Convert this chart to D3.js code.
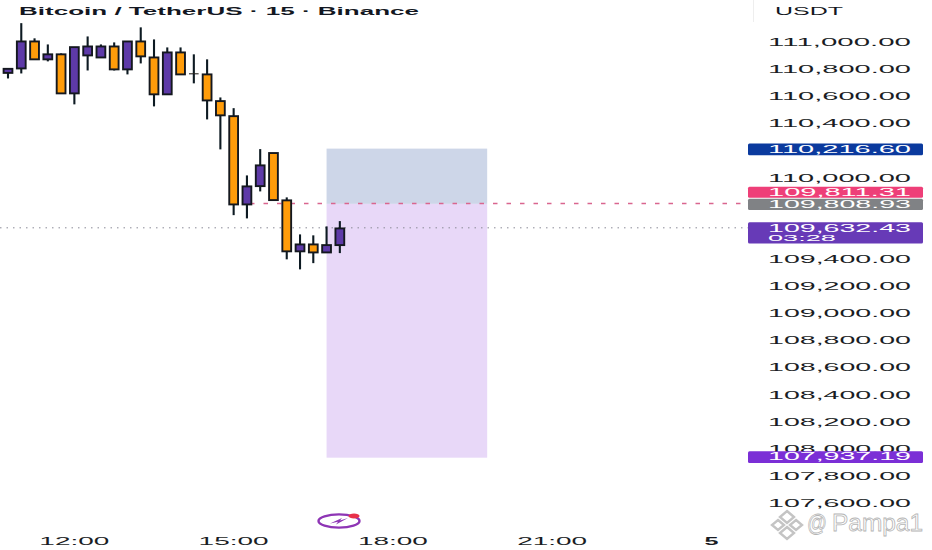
<!DOCTYPE html>
<html><head><meta charset="utf-8">
<script src="https://cdn.jsdelivr.net/npm/d3@7/dist/d3.min.js"></script>
<style>html,body{margin:0;padding:0;background:#fff;overflow:hidden}svg{display:block}text{font-family:"Liberation Sans",Arial,sans-serif}</style>
</head><body><svg id="c" width="932" height="550"></svg>
<script>
const opens =[110775,110808,111007,110875,110912,110624,110904,110889,110970,110801,111007,110889,110617,110926,110769,110764,110567,110456,109805,109940,110184,109835,109459,109510,109451,109505];
const closes=[110805,111007,110875,110912,110624,110965,110970,110970,110801,111007,110897,110617,110926,110764,110769,110572,110462,109805,109938,110093,109837,109459,109510,109451,109505,109628];
const highs =[110805,111142,111030,110985,110919,110965,111044,110985,111000,111007,111111,111022,110963,110963,110912,110875,110594,110515,110019,110213,110184,109857,109584,109577,109643,109682];
const lows  =[110734,110771,110875,110860,110624,110543,110793,110889,110793,110764,110845,110528,110617,110764,110698,110432,110211,109726,109702,109901,109837,109400,109326,109372,109451,109446];
const priceTicks=[111000,110800,110600,110400,110000,109400,109200,109000,108800,108600,108400,108200,108000,107800,107600];
const timeLabels=["12:00","15:00","18:00","21:00","5"];
const timeBars=[5,17,29,41,53];
const tagValues=[110216.60,109811.31,109808.93,109632.43,107937.19];
const tagColors=["#0b3a9e","#ee3f78","#808285","#673ab7","#7b2fd6"];
const posTop=110216.60,posEntry=109808.93,posBottom=107937.19,posStartBar=24,posEndBar=36.1;
const currentCountdown="03:28";

const svg=d3.select("#c");
const y=d3.scaleLinear().domain([111000,107600]).range([42.4,503.4]);
const x=d3.scaleLinear().domain([0,53]).range([8,711.5]);
const fmt=d3.format(",.2f");
const stretched=(sel,t,px,py,len,size,col,weight)=>sel.append("text").attr("x",px).attr("y",py).attr("fill",col)
  .attr("font-size",size).attr("font-weight",weight||400).attr("textLength",len).attr("lengthAdjust","spacingAndGlyphs").text(t);

// position tool
svg.append("rect").attr("x",x(posStartBar)).attr("width",x(posEndBar)-x(posStartBar)).attr("y",y(posTop)).attr("height",y(posEntry)-y(posTop)).attr("fill","#cdd6e8");
svg.append("rect").attr("x",x(posStartBar)).attr("width",x(posEndBar)-x(posStartBar)).attr("y",y(posEntry)).attr("height",y(posBottom)-y(posEntry)).attr("fill","#e8d8f8");

// price lines
svg.append("line").attr("x1",250).attr("x2",748).attr("y1",y(tagValues[1])).attr("y2",y(tagValues[1])).attr("stroke","#d9668f").attr("stroke-width",1.5).attr("stroke-dasharray","4.5 9");
svg.append("line").attr("x1",0).attr("x2",748).attr("y1",y(tagValues[3])).attr("y2",y(tagValues[3])).attr("stroke","#8a8a96").attr("stroke-width",1).attr("stroke-dasharray","1.5 5");

// candles
const idx=d3.range(opens.length);
svg.append("g").selectAll("line").data(idx).join("line")
  .attr("x1",i=>x(i)).attr("x2",i=>x(i)).attr("y1",i=>y(highs[i])).attr("y2",i=>y(lows[i]))
  .attr("stroke","#0d1a22").attr("stroke-width",2.1);
svg.append("g").selectAll("rect").data(idx).join("rect")
  .attr("x",i=>x(i)-4.4).attr("width",8.8)
  .attr("y",i=>y(Math.max(opens[i],closes[i])))
  .attr("height",i=>Math.max(0.2,Math.abs(y(opens[i])-y(closes[i]))))
  .attr("fill",i=>closes[i]>opens[i]?"#5e3aa8":"#ff9c0a")
  .attr("stroke","#14181f").attr("stroke-width",i=>opens[i]===closes[i]?0.8:1.9);

// title
stretched(svg,"Bitcoin / TetherUS · 15 · Binance",19,15.3,400,11,"#131722",700);
stretched(svg,"USDT",775,15.3,68,10.5,"#131722");

// axis separator
svg.append("line").attr("x1",753.5).attr("x2",753.5).attr("y1",0).attr("y2",22).attr("stroke","#eeeeee");

// price ticks
const py=svg.append("g");
priceTicks.forEach(v=>stretched(py,fmt(v),768,y(v)+3.6,143,10.5,"#1a1d24"));

// tags
const tagTop=[143.5,186.8,198.7,222.3,451.3],tagH=[11.7,11,11.3,21.3,11.7];
tagValues.forEach((v,i)=>{
  svg.append("rect").attr("x",748).attr("width",175).attr("y",tagTop[i]).attr("height",tagH[i]).attr("rx",1.5).attr("fill",tagColors[i]);
  stretched(svg,fmt(v),768,tagTop[i]+(i===3?9.5:9),143,10,"#fff");
});
stretched(svg,currentCountdown,768,241,68,9.5,"#fff");

// time axis
timeLabels.forEach((t,i)=>{
  const w=t.length>1?70:14;
  stretched(svg,t,x(timeBars[i])-w/2,544.5,w,10.5,"#1a1d24",t.length>1?400:700);
});

// logo
const logo=svg.append("g").attr("transform","translate(339,521)");
logo.append("ellipse").attr("rx",20.5).attr("ry",6.6).attr("fill","none").attr("stroke","#8e35b5").attr("stroke-width",2.4);
logo.append("path").attr("d","M-9,2.5 L3,-3 L1,-0.5 L9,-3 L-3,3.5 L-1,0.8 Z").attr("fill","#8e35b5");
logo.append("ellipse").attr("cx",15).attr("cy",-5).attr("rx",5.5).attr("ry",2.6).attr("fill","#e8314a");

// watermark
const wm=svg.append("g").attr("transform","translate(787,524)").attr("fill","none").attr("stroke","#c4c4c4").attr("stroke-width",2.4);
wm.append("path").attr("d","M0,-13 L7,-7 L0,-1 L-7,-7 Z M-9,-4 L-3,1 L-9,6 L-15,1 Z M9,-4 L15,1 L9,6 L3,1 Z M0,3 L7,9 L0,15 L-7,9 Z");
[["@",807,20],["Pampa1",832,91]].forEach(([t,px,len])=>{
  svg.append("text").attr("x",px).attr("y",531).attr("font-size",24).attr("fill","#fff").attr("stroke","#b5b5b5").attr("stroke-width",0.8).attr("textLength",len).attr("lengthAdjust","spacingAndGlyphs").text(t);
});
</script></body></html>
